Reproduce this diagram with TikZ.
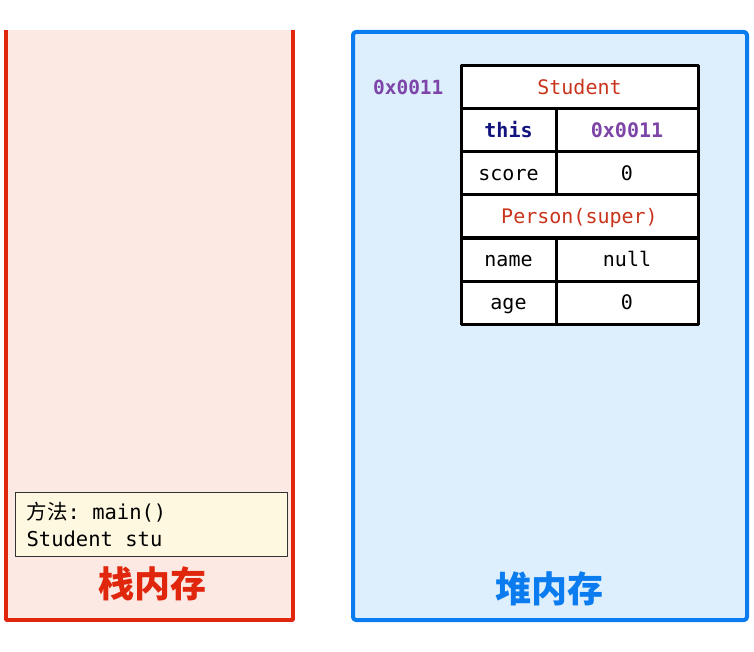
\documentclass[tikz,border=0pt]{standalone}
\usepackage{fontspec}
\setmonofont{DejaVu Sans Mono}
\newfontfamily\cjk{Noto Sans CJK SC}
\usetikzlibrary{positioning}
\definecolor{stackred}{HTML}{E0260C}
\definecolor{stackfill}{HTML}{FDE9E3}
\definecolor{heapblue}{HTML}{0B7CF0}
\definecolor{heapfill}{HTML}{DDEFFD}
\definecolor{framefill}{HTML}{FEF8E1}
\definecolor{addrpurple}{HTML}{7D45A8}
\definecolor{clsred}{HTML}{C9341D}
\definecolor{kwnavy}{HTML}{14147E}
\newcommand{\msp}{\hspace{0.602em}}
\tikzset{
  cell/.style={draw=black,fill=white,line width=3pt,inner sep=0pt,outer sep=0pt,
    minimum height=43pt,text height=16pt,text depth=2pt,
    font=\ttfamily\fontsize{20pt}{22pt}\selectfont},
  keycell/.style={cell,minimum width=95pt},
  valcell/.style={cell,minimum width=142pt},
  fullcell/.style={cell,minimum width=237pt},
  memlabel/.style={font=\cjk\bfseries\fontsize{36pt}{38pt}\selectfont},
}
\begin{document}
\begin{tikzpicture}[x=1pt,y=-1pt,line join=round]
	\useasboundingbox (0,0) rectangle (754,652);
	% stack memory
	\fill[stackfill] (6,30) rectangle (293,620);
	\draw[stackred,line width=3.5pt] (6,30)--(6,620)--(293,620)--(293,30);
	\node[draw=black!80,line width=1.2pt,fill=framefill,anchor=north west,
	  minimum width=272pt,minimum height=64pt,text width=250pt,inner xsep=11pt,inner ysep=0pt,align=left,
	  font=\ttfamily\fontsize{20.5pt}{27pt}\selectfont] (frm) at (15,492)
	  {{\cjk 方法}:\msp main()\\Student\msp stu};
	\node[memlabel,text=stackred] (stk) at (152,584) {栈内存};
	% heap memory
	\draw[heapblue,fill=heapfill,line width=4pt,rounded corners=3pt] (353,32) rectangle (747,620);
	\node[memlabel,text=heapblue] (hp) at (549,589) {堆内存};
	% object
	\node[fullcell,anchor=north west,text=clsred] (cls) at (461,66) {Student};
	\node[keycell,anchor=north west] (thisK) at (cls.south west) {\textcolor{kwnavy}{\bfseries this}};
	\node[valcell,anchor=north west] (thisV) at (thisK.north east) {\textcolor{addrpurple}{\bfseries 0x0011}};
	\node[keycell,anchor=north west] (scoreK) at (thisK.south west) {score};
	\node[valcell,anchor=north west] (scoreV) at (scoreK.north east) {0};
	\node[fullcell,anchor=north west,text=clsred] (sup) at (scoreK.south west) {Person(super)};
	\node[keycell,anchor=north west] (nameK) at (sup.south west) {name};
	\node[valcell,anchor=north west] (nameV) at (nameK.north east) {null};
	\node[keycell,anchor=north west] (ageK) at (nameK.south west) {age};
	\node[valcell,anchor=north west] (ageV) at (ageK.north east) {0};
	\node[left=14pt of cls,text=addrpurple,font=\ttfamily\bfseries\fontsize{19.5pt}{22pt}\selectfont,
	  text height=16pt,text depth=2pt] (addr) {0x0011};
\end{tikzpicture}
\end{document}
